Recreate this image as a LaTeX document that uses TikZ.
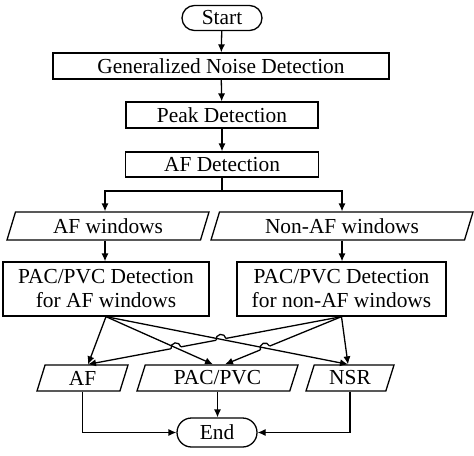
\documentclass[tikz,border=0pt]{standalone}
\usepackage{fontspec}
\setmainfont{Liberation Serif}
\usetikzlibrary{positioning, shapes.geometric, shapes.misc, arrows.meta, calc, intersections}

\tikzset{
  base/.style={draw, line width=0.65pt, font=\fontsize{10.7pt}{12pt}\selectfont, inner sep=1pt},
  proc/.style={base, rectangle, minimum height=13pt},
  term/.style={base, rounded rectangle, minimum height=12.5pt, minimum width=42pt},
  io/.style={base, trapezium, trapezium left angle=66, trapezium right angle=114,
    trapezium stretches body, minimum height=13pt},
  arr/.style={line width=0.65pt, -{Latex[length=4pt,width=3.6pt]}},
  ln/.style={line width=0.65pt}
}
% line jump: crossing, lower end, upper end
\newcommand{\hopat}[3]{%
  \draw[white, line width=1.8pt] ($(#1)!2.5pt!(#2)$) -- ($(#1)!2.5pt!(#3)$);
  \draw[ln] let \p1=($(#3)-(#2)$), \n1={atan2(\y1,\x1)} in
    ($(#1)!2.5pt!(#2)$) arc[start angle=\n1+180, delta angle=-180, radius=2.5pt];
}

\begin{document}
\begin{tikzpicture}[x=0.5pt, y=-0.5pt]
        \useasboundingbox (0,0) rectangle (474,455);

        \node[term] (start) at (222,18) {Start};
        \node[proc, minimum width=168pt] (noise) at (221,66) {Generalized Noise Detection};
        \node[proc, minimum width=96pt] (peak) at (222,115) {Peak Detection};
        \node[proc, minimum width=96.5pt, minimum height=12.5pt] (afdet) at (222,164.5) {AF Detection};
        \node[io, minimum width=101pt, minimum height=14pt] (afwin) at (108,226) {AF windows};
        \node[io, minimum width=131pt, minimum height=14pt] (nonwin) at (342,226) {Non-AF windows};
        \node[proc, minimum width=103pt, minimum height=27pt, align=center] (pacaf) at (106,289)
          {PAC/PVC Detection\\for AF windows};
        \node[proc, minimum width=104.5pt, minimum height=27pt, align=center] (pacnon) at (341.5,289)
          {PAC/PVC Detection\\for non-AF windows};
        \node[io, minimum width=45.5pt] (af) at (82.5,378) {AF};
        \node[io, minimum width=80.5pt] (pac) at (217.5,378) {PAC/PVC};
        \node[io, minimum width=44pt] (nsr) at (350,378) {NSR};
        \node[term, minimum height=14.5pt] (end) at (217,432.5) {End};

        \draw[arr] (start) -- (noise);
        \draw[arr] (noise) -- (peak);
        \draw[arr] (peak) -- (afdet);

        \coordinate (split) at (222,191);
        \draw[ln] (afdet.south) -- (split);
        \draw[arr] (split) -| ([xshift=-1.5pt]afwin.north);
        \draw[arr] (split) -| (nonwin.north);
        \draw[arr] ([xshift=-1.5pt]afwin.south) -- ([xshift=-1.5pt]afwin.south |- pacaf.north);
        \draw[arr] (nonwin.south) -- (nonwin.south |- pacnon.north);

        % inputs of the result nodes
        \coordinate (afin) at ([xshift=2.75pt]af.north);
        \coordinate (pacinL) at ([xshift=-2.25pt]pac.north);
        \coordinate (pacinR) at ([xshift=3.75pt]pac.north);
        \coordinate (nsrin) at ([xshift=-1pt]nsr.north);

        \path[name path=lpac] (pacaf.south) -- (pacinL);
        \path[name path=lnsr] (pacaf.south) -- (nsrin);
        \path[name path=raf] (pacnon.south) -- (afin);
        \path[name path=rpac] (pacnon.south) -- (pacinR);
        \path[name intersections={of=raf and lpac, by=h1}];
        \path[name intersections={of=raf and lnsr, by=h2}];
        \path[name intersections={of=rpac and lnsr, by=h3}];

        \draw[arr] (pacnon.south) -- (afin);
        \draw[arr] (pacnon.south) -- (pacinR);
        \draw[arr] (pacnon.south) -- (nsrin);
        \hopat{h1}{afin}{pacnon.south}
        \hopat{h2}{afin}{pacnon.south}
        \hopat{h3}{pacinR}{pacnon.south}

        \draw[arr] (pacaf.south) -- (afin);
        \draw[arr] (pacaf.south) -- (pacinL);
        \draw[arr] (pacaf.south) -- (nsrin);

        \draw[arr] (af.south) |- (end.west);
        \draw[arr] (pac.south) -- (pac.south |- end.north);
        \draw[arr] (nsr.south) |- (end.east);
      \end{tikzpicture}
\end{document}
